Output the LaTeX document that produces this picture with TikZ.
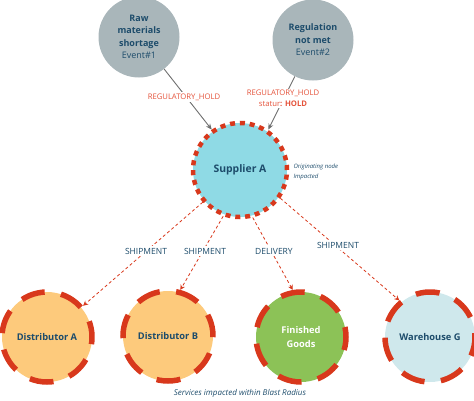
\documentclass[tikz,border=0pt]{standalone}
\usepackage{fontspec}
\setmainfont{Open Sans}
\usetikzlibrary{arrows.meta}
\definecolor{evgrey}{HTML}{A9B6BA}
\definecolor{txtblue}{HTML}{1D4C6B}
\definecolor{bordred}{HTML}{D8381C}
\definecolor{lblred}{HTML}{E5533B}
\definecolor{supfill}{HTML}{8FDAE5}
\definecolor{orfill}{HTML}{FDCA7C}
\definecolor{grfill}{HTML}{8CC257}
\definecolor{whfill}{HTML}{CFE8EC}
\definecolor{arrgrey}{HTML}{6E6E6E}
\begin{document}
\begin{tikzpicture}[x=1pt,y=-1pt,
  event/.style={circle,fill=evgrey,inner sep=0pt,minimum size=81pt,align=center,
    text=txtblue,font=\fontsize{9}{12.5}\selectfont},
  origin/.style={circle,fill=supfill,draw=bordred,line width=4.5pt,
    dash pattern=on 5pt off 4.85pt,inner sep=0pt,minimum size=94pt,align=center,
    text=txtblue,font=\fontsize{10.4}{12}\selectfont\bfseries},
  impacted/.style={circle,draw=bordred,line width=5.5pt,
    dash pattern=on 24pt off 16.5pt,inner sep=0pt,minimum size=90pt,align=center,
    text=txtblue,font=\fontsize{9.3}{14}\selectfont\bfseries},
  holdline/.style={draw=arrgrey,line width=0.9pt,-{Stealth[length=6pt,width=5pt]}},
  impline/.style={draw=bordred,line width=0.8pt,dash pattern=on 3pt off 2.5pt,
    -{Stealth[length=5pt,width=5pt]}},
  holdlbl/.style={fill=white,inner sep=1.5pt,text=lblred,align=center,
    font=\fontsize{7.7}{11}\selectfont},
  rellbl/.style={fill=white,inner sep=1.5pt,text=txtblue,font=\fontsize{8.5}{9}\selectfont},
  note/.style={text=txtblue,align=left,font=\fontsize{6}{10}\selectfont\itshape}
]
\useasboundingbox (0,0) rectangle (474,400);

\node[event] (raw) at (139,37) {\textbf{Raw}\\\textbf{materials}\\\textbf{shortage}\\Event\#1};
\node[event] (reg) at (313,40) {\textbf{Regulation}\\\textbf{not met}\\Event\#2};

\node[origin] (sup) at (240,170) {Supplier A};

\node[impacted,fill=orfill,dash phase=8pt] (dista) at (47,337) {Distributor A};
\node[impacted,fill=orfill,dash phase=2pt] (distb) at (168,336) {Distributor B};
\node[impacted,fill=grfill,text=white,dash phase=14pt] (fin) at (301,337) {Finished\\Goods};
\node[impacted,fill=whfill,dash phase=20pt] (wh) at (430,337) {Warehouse G};

\draw[holdline] (raw) -- (sup.125);
\draw[holdline] (reg) -- (sup.55);
\node[holdlbl] (l1) at (184,97) {REGULATORY\_HOLD};
\node[holdlbl] (l2) at (283,98.5) {REGULATORY\_HOLD\\statur\textbf{: HOLD}};

\draw[impline] (sup) -- (dista);
\draw[impline] (sup.-110) -- (distb.75);
\draw[impline] (sup.-75) -- (fin.100);
\draw[impline] (sup.-35) -- (wh.130);
\node[rellbl] (s1) at (146,251) {SHIPMENT};
\node[rellbl] (s2) at (205,251) {SHIPMENT};
\node[rellbl] (s3) at (274,251) {DELIVERY};
\node[rellbl] (s4) at (338,245) {SHIPMENT};

\node[note,anchor=west] (orig) at (290,172) {Originating node\\Impacted};
\node[note,font=\fontsize{8}{10}\selectfont\itshape] (blast) at (240,393) {Services impacted within Blast Radius};
\end{tikzpicture}
\end{document}
